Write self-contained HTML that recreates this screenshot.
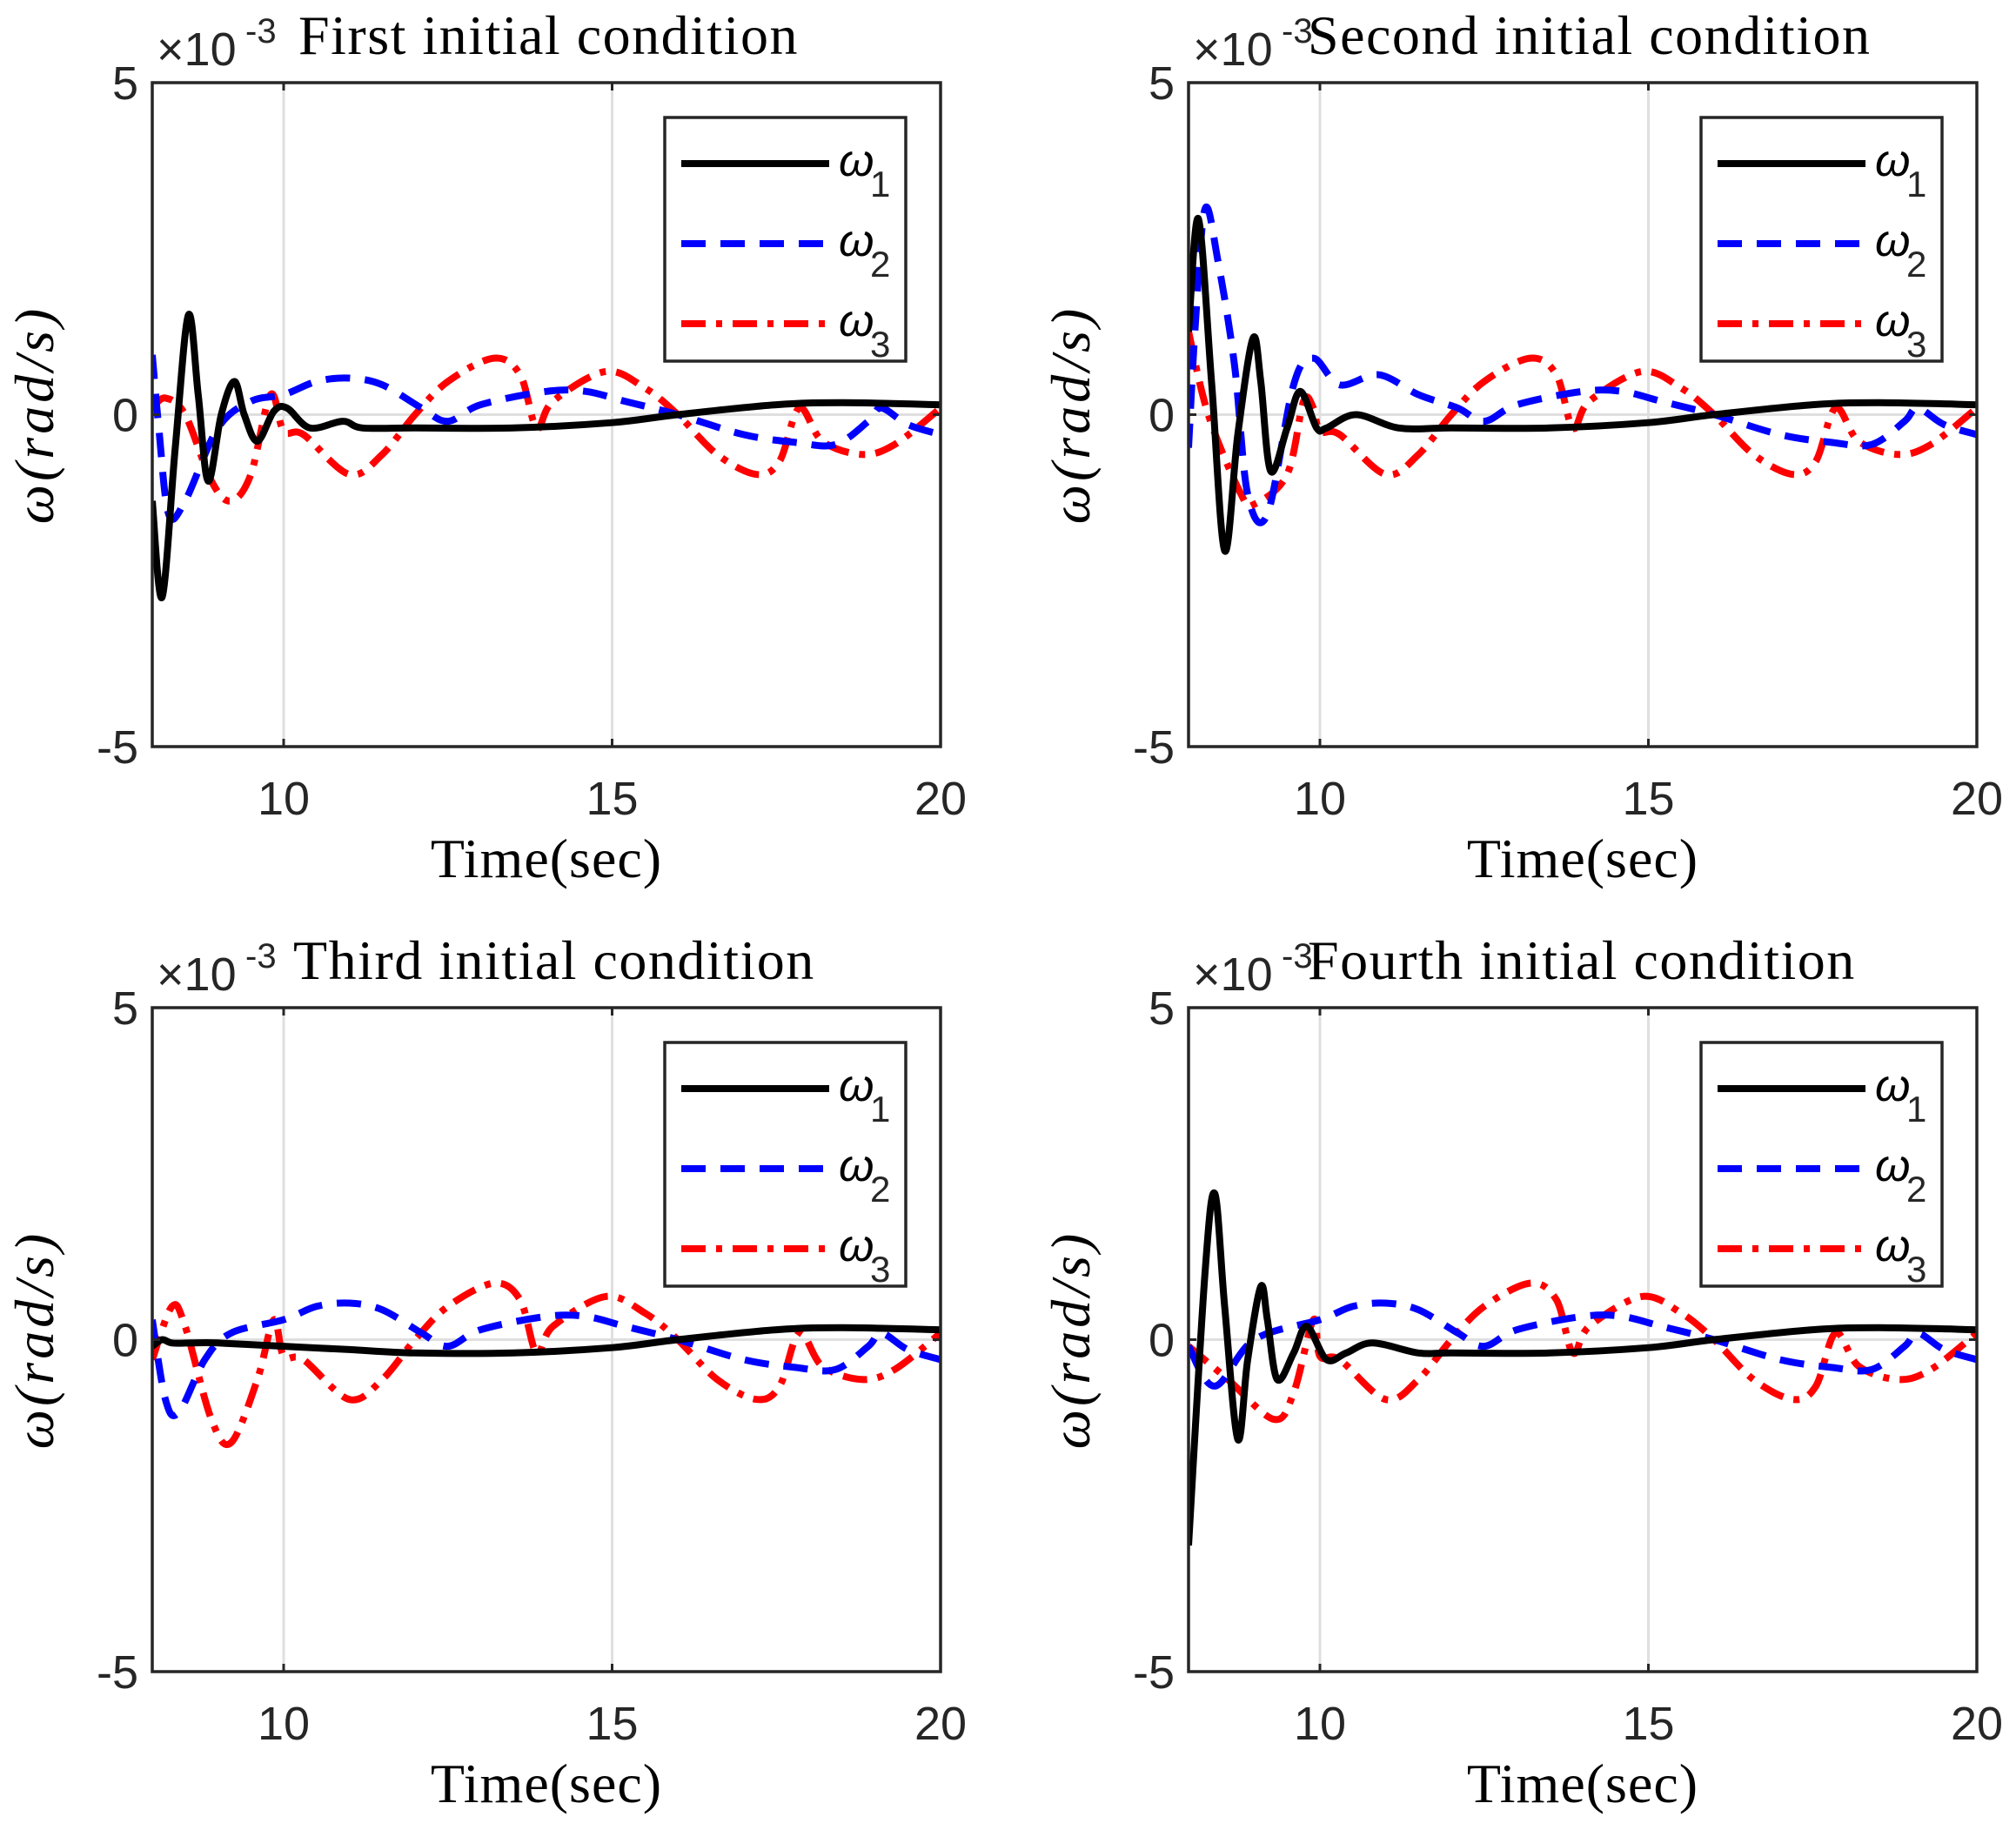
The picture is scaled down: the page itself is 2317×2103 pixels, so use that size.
<!DOCTYPE html>
<html><head><meta charset="utf-8"><style>
html,body{margin:0;padding:0;background:#fff;}
svg{display:block;}
.tk{font-family:"Liberation Sans",sans-serif;font-size:54px;fill:#262626;}
.sr{font-family:"Liberation Serif",serif;fill:#000;}
</style></head><body>
<svg id="s" xmlns="http://www.w3.org/2000/svg" width="2317" height="2103" viewBox="0 0 2317 2103"></svg>
<script>
const S=document.getElementById('s');
let out='';
const common={
 k:[[10.6,0.0],[11.2,-0.2],[12,-0.2],[13.5,-0.2],[15,-0.12],[16,0],[17.5,0.15],[18.5,0.18],[20,0.15]],
 b:[[10.5,0.5],[11,0.55],[11.5,0.45],[12.1,0.1],[12.5,-0.1],[13,0.15],[14,0.35],[14.6,0.35],[15.2,0.2],[16,0],[17,-0.3],[17.8,-0.42],[18.4,-0.45],[18.9,-0.1],[19.1,0.1],[19.5,-0.15],[20,-0.3]],
 r:[[10,-0.25],[10.3,-0.3],[11,-0.9],[11.5,-0.6],[12,0],[12.5,0.5],[13.2,0.85],[13.6,0.6],[13.85,-0.2],[14.1,0.2],[14.9,0.65],[15.5,0.4],[16,0],[16.6,-0.6],[17.2,-0.9],[17.55,-0.7],[17.85,0.1],[18.2,-0.4],[18.8,-0.6],[19.3,-0.45],[20,0.1]]
};
const plots=[
 {x0:175,y0:95,title:'First initial condition',tx:343,
  k:[[8,-1.3],[8.15,-2.75],[8.35,-0.5],[8.55,1.5],[8.7,0.3],[8.85,-1.0],[9.05,0],[9.25,0.5],[9.4,0],[9.6,-0.4],[9.85,0.05],[10.05,0.1],[10.4,-0.2],[10.9,-0.1]],
  b:[[8,0.9],[8.1,-0.2],[8.25,-1.5],[8.5,-1.3],[9,-0.2],[9.5,0.2],[10,0.3]],
  r:[[8,0.1],[8.2,0.25],[8.5,0],[8.9,-1.0],[9.2,-1.3],[9.5,-0.9],[9.8,0.3]]},
 {x0:1366,y0:95,title:'Second initial condition',tx:1503,
  k:[[8,1.25],[8.15,2.95],[8.35,0.5],[8.55,-2.05],[8.75,-0.3],[8.98,1.15],[9.1,0.5],[9.25,-0.85],[9.5,-0.2],[9.7,0.35],[9.95,-0.2],[10.1,-0.2],[10.55,0],[11.2,-0.2]],
  b:[[8,-0.5],[8.1,1.3],[8.25,3.1],[8.45,2.3],[8.7,0.75],[8.9,-1.2],[9.2,-1.5],[9.6,0.45],[9.9,0.85],[10.3,0.45],[10.9,0.6],[11.5,0.3],[12.1,0.1]],
  r:[[8,1.25],[8.3,0],[8.8,-1.2],[9.0,-1.35],[9.5,-0.9],[9.75,0.2],[9.9,0.1]]},
 {x0:175,y0:1158,title:'Third initial condition',tx:337,
  k:[[8,-0.1],[8.15,0],[8.3,-0.05],[8.6,-0.05],[9,-0.05],[10,-0.1],[11,-0.15],[12,-0.2]],
  b:[[8,0.3],[8.2,-0.9],[8.4,-1.1],[8.8,-0.3],[9.2,0.1],[10,0.3]],
  r:[[8,-0.3],[8.3,0.5],[8.5,0.2],[8.9,-1.2],[9.2,-1.55],[9.6,-0.6],[9.85,0.3]]},
 {x0:1366,y0:1158,title:'Fourth initial condition',tx:1503,
  k:[[8,-3.1],[8.25,1.0],[8.4,2.2],[8.55,0.5],[8.75,-1.5],[8.9,-0.3],[9.1,0.8],[9.2,0.3],[9.35,-0.6],[9.6,-0.2],[9.8,0.2],[10.1,-0.3],[10.4,-0.2],[10.8,-0.05],[11.5,-0.2]],
  b:[[8,-0.1],[8.4,-0.7],[9,0],[10,0.3],[10.5,0.5]],
  r:[[8,-0.1],[8.6,-0.6],[9.3,-1.2],[9.6,-0.8],[9.9,0.3]]}
];
const W=906,H=763;
function merge(a,c){const last=a[a.length-1][0];return a.concat(c.filter(p=>p[0]>last+0.05));}
function path(pts,X,Y){
 const P=pts.map(p=>[X(p[0]),Y(p[1])]);
 let d='M'+P[0][0].toFixed(1)+','+P[0][1].toFixed(1);
 for(let i=0;i<P.length-1;i++){
  const p0=P[i-1]||P[i],p1=P[i],p2=P[i+1],p3=P[i+2]||p2;
  const c1=[p1[0]+(p2[0]-p0[0])/6,p1[1]+(p2[1]-p0[1])/6];
  const c2=[p2[0]-(p3[0]-p1[0])/6,p2[1]-(p3[1]-p1[1])/6];
  d+=' C'+c1.map(v=>v.toFixed(1))+' '+c2.map(v=>v.toFixed(1))+' '+p2.map(v=>v.toFixed(1));
 }
 return d;
}
plots.forEach((p,i)=>{
 const X=t=>p.x0+(t-8)/12*W, Y=v=>p.y0+H/2-v/10*H;
 const id='c'+i;
 out+=`<clipPath id="${id}"><rect x="${p.x0}" y="${p.y0}" width="${W}" height="${H}"/></clipPath>`;
 [10,15].forEach(t=>out+=`<line x1="${X(t)}" y1="${p.y0}" x2="${X(t)}" y2="${p.y0+H}" stroke="#dfdfdf" stroke-width="3"/>`);
 out+=`<line x1="${p.x0}" y1="${Y(0)}" x2="${p.x0+W}" y2="${Y(0)}" stroke="#dfdfdf" stroke-width="3"/>`;
 out+=`<g clip-path="url(#${id})" fill="none" stroke-width="8" stroke-linejoin="round">`;
 out+=`<path d="${path(merge(p.r,common.r),X,Y)}" stroke="#ff0000" stroke-dasharray="28 12 7 12"/>`;
 out+=`<path d="${path(merge(p.b,common.b),X,Y)}" stroke="#0000ff" stroke-dasharray="28 17"/>`;
 out+=`<path d="${path(merge(p.k,common.k),X,Y)}" stroke="#000"/>`;
 out+=`</g>`;
 [10,15].forEach(t=>{out+=`<line x1="${X(t)}" y1="${p.y0}" x2="${X(t)}" y2="${p.y0+9}" stroke="#262626" stroke-width="3"/><line x1="${X(t)}" y1="${p.y0+H}" x2="${X(t)}" y2="${p.y0+H-9}" stroke="#262626" stroke-width="3"/>`;});
 out+=`<line x1="${p.x0}" y1="${Y(0)}" x2="${p.x0+9}" y2="${Y(0)}" stroke="#262626" stroke-width="3"/><line x1="${p.x0+W}" y1="${Y(0)}" x2="${p.x0+W-9}" y2="${Y(0)}" stroke="#262626" stroke-width="3"/>`;
 out+=`<rect x="${p.x0}" y="${p.y0}" width="${W}" height="${H}" fill="none" stroke="#262626" stroke-width="3.5"/>`;
 out+=`<text class="tk" x="${p.x0-16}" y="${p.y0+19}" text-anchor="end">5</text>`;
 out+=`<text class="tk" x="${p.x0-16}" y="${Y(0)+19}" text-anchor="end">0</text>`;
 out+=`<text class="tk" x="${p.x0-16}" y="${p.y0+H+19}" text-anchor="end">-5</text>`;
 [10,15,20].forEach(t=>out+=`<text class="tk" x="${X(t)}" y="${p.y0+H+78}" text-anchor="middle">${t}</text>`);
 out+=`<text class="tk" x="${p.x0+5}" y="${p.y0-20}">×10</text><text class="tk" x="${p.x0+107}" y="${p.y0-46}" style="font-size:40px">-3</text>`;
 out+=`<text class="sr" x="${p.tx}" y="${p.y0-33}" style="font-size:64px;letter-spacing:1.5px">${p.title}</text>`;
 out+=`<text class="sr" x="${p.x0+W/2}" y="${p.y0+H+150}" text-anchor="middle" style="font-size:64px;letter-spacing:1px" fill="#262626">Time(sec)</text>`;
 out+=`<text class="sr" transform="translate(${p.x0-114},${Y(0)}) rotate(-90)" text-anchor="middle" style="font-size:64px;font-style:italic;letter-spacing:4px" fill="#262626">ω(rad/s)</text>`;
 const lx=p.x0+589, ly=p.y0+40;
 out+=`<rect x="${lx}" y="${ly}" width="277" height="280" fill="#fff" stroke="#262626" stroke-width="3.5"/>`;
 const cols=[['#000',''],['#0000ff','28 17'],['#ff0000','28 12 7 12']];
 cols.forEach((c,j)=>{const yy=ly+53+j*92;
  out+=`<line x1="${lx+19}" y1="${yy}" x2="${lx+189}" y2="${yy}" stroke="${c[0]}" stroke-width="8" ${c[1]?`stroke-dasharray="${c[1]}"`:''}/>`;
  out+=`<text class="tk" x="${lx+200}" y="${yy+14}" style="font-style:italic;font-size:52px;fill:#000">ω</text><text class="tk" x="${lx+236}" y="${yy+38}" style="font-size:42px">${j+1}</text>`;
 });
});
S.innerHTML=out;
</script>
</body></html>
